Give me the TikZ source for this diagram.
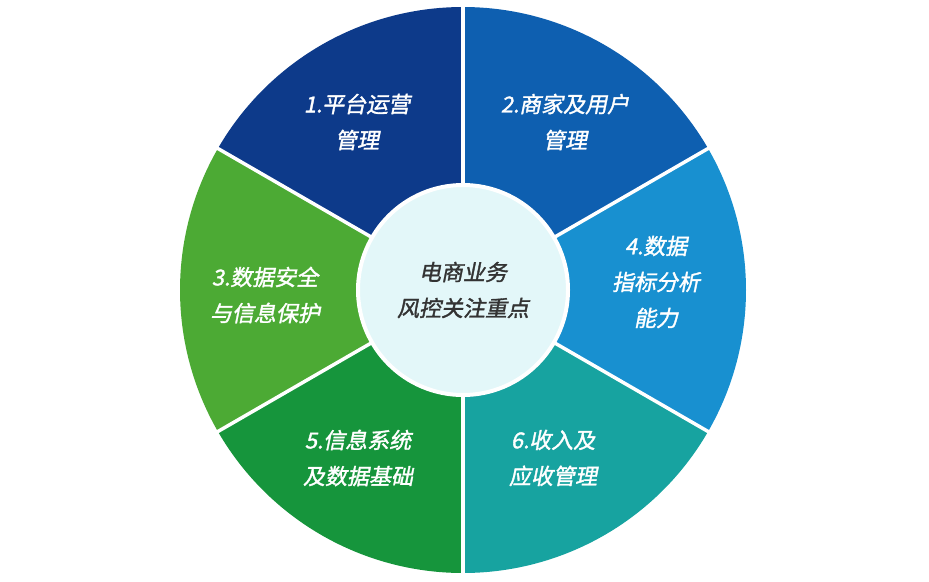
\documentclass[tikz,border=0pt]{standalone}
\usepackage{fontspec}
\newfontfamily\cjk[FakeSlant=0.2,FakeBold=1.5]{Noto Sans CJK SC}
\begin{document}
\begin{tikzpicture}[x=1pt,y=1pt,
  lbl/.style={text=white,font=\cjk\fontsize{22}{36}\selectfont,align=center},
  ctr/.style={text=black!80,font=\cjk\fontsize{22}{36}\selectfont,align=center},
  sep/.style={white,line width=3.5pt}]
\useasboundingbox (0,0) rectangle (929,-581);
\coordinate (O) at (463,-290);
\def\R{283}\def\r{105}
\foreach \a/\b/\c in {90/150/0D3A8A,30/90/0E5FB0,-30/30/1890D0,-90/-30/17A3A0,-150/-90/16953C,150/210/4CAA34}{
  \definecolor{tmp}{HTML}{\c}
  \fill[tmp] (O) -- ++(\a:\R) arc (\a:\b:\R) -- cycle;
}
\foreach \a in {90,30,-30,-90,-150,150}{\draw[sep] (O) -- ++(\a:\R+2);}
\definecolor{cfill}{HTML}{E3F7F9}
\node[circle,fill=cfill,draw=white,line width=4pt,minimum size=2*\r pt,inner sep=0pt] (c) at (O) {};
\node[ctr] (t0) at (463,-290) {电商业务\\风控关注重点};
\node[lbl] (t1) at (357,-122) {1.平台运营\\管理};
\node[lbl] (t2) at (565,-122) {2.商家及用户\\管理};
\node[lbl] (t4) at (656,-282) {4.数据\\指标分析\\能力};
\node[lbl] (t3) at (265,-295) {3.数据安全\\与信息保护};
\node[lbl] (t5) at (358,-458) {5.信息系统\\及数据基础};
\node[lbl] (t6) at (553,-458) {6.收入及\\应收管理};
\end{tikzpicture}
\end{document}
